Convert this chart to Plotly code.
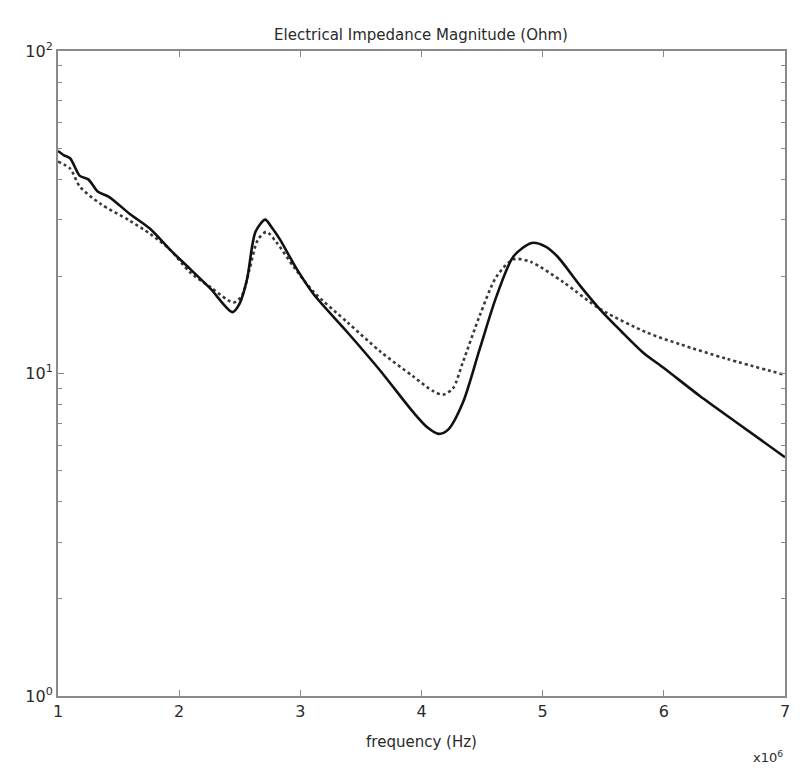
import plotly.graph_objects as go

# frequency in units of 1e6 Hz
freq_solid = [1.00, 1.05, 1.10, 1.18, 1.25, 1.33, 1.42, 1.59, 1.76, 1.92, 2.09, 2.26,
              2.44, 2.50, 2.56, 2.63, 2.71, 2.76, 2.83, 2.97, 3.11, 3.39, 3.66, 3.93,
              4.05, 4.14, 4.22, 4.34, 4.48, 4.62, 4.76, 4.91, 5.02, 5.12, 5.31, 5.48,
              5.65, 5.83, 6.00, 6.30, 6.60, 7.00]
z_solid = [49.0, 47.5, 46.5, 41.0, 40.0, 36.6, 35.3, 31.3, 28.1, 24.3, 21.1, 18.3,
           15.5, 16.5, 19.6, 27.5, 30.0, 28.5, 26.1, 21.1, 17.6, 13.4, 10.2, 7.6,
           6.8, 6.5, 6.7, 8.1, 11.9, 17.4, 23.1, 25.4, 24.8, 23.1, 18.7, 15.7,
           13.5, 11.6, 10.4, 8.5, 7.05, 5.5]

freq_dotted = [1.00, 1.10, 1.18, 1.35, 1.59, 1.76, 1.92, 2.09, 2.26, 2.45, 2.52, 2.58,
               2.65, 2.72, 2.80, 2.95, 3.11, 3.39, 3.66, 3.93, 4.10, 4.18, 4.26, 4.34,
               4.48, 4.62, 4.76, 4.90, 5.17, 5.48, 5.86, 6.14, 6.52, 7.00]
z_dotted = [45.4, 43.2, 38.0, 33.6, 29.8, 27.1, 24.3, 20.6, 18.5, 16.6, 17.5, 21.0,
            26.0, 27.5, 25.6, 21.3, 17.9, 14.4, 11.7, 9.8, 8.8, 8.6, 9.0, 10.8,
            15.1, 20.0, 22.6, 22.2, 19.2, 15.8, 13.4, 12.3, 11.1, 9.9]

x_ticks = [1, 2, 3, 4, 5, 6, 7]
y_ticks = [1, 10, 100]
y_ticktext = ["10<sup>0</sup>", "10<sup>1</sup>", "10<sup>2</sup>"]
y_minor = [m * d for d in (1, 10) for m in range(2, 10)]

FONT = "DejaVu Sans"
TEXT_COLOR = "#2a2a2a"
AXIS_COLOR = "#8a8a8a"

# page body adds an 8px margin, so the figure is a bit smaller than the window
W, H = 801, 760

fig = go.Figure()
fig.add_trace(go.Scatter(
    x=freq_dotted, y=z_dotted, mode="lines",
    line=dict(color="#3a3a3a", width=2.6, dash="dot", shape="spline", smoothing=0.8),
))
fig.add_trace(go.Scatter(
    x=freq_solid, y=z_solid, mode="lines",
    line=dict(color="#111111", width=2.6, shape="spline", smoothing=0.8),
))

fig.update_layout(
    width=W, height=H,
    paper_bgcolor="white", plot_bgcolor="white",
    showlegend=False,
    margin=dict(l=50, r=24, t=43, b=72),
    font=dict(family=FONT, color=TEXT_COLOR),
    title=dict(text="Electrical Impedance Magnitude (Ohm)", x=413 / W, xanchor="center",
               y=1 - 27 / H, yanchor="middle", font=dict(size=15, color=TEXT_COLOR)),
    annotations=[dict(text="x10<sup>6</sup>", xref="paper", yref="paper", x=1.0, y=-0.095,
                      xanchor="right", yanchor="middle", showarrow=False,
                      font=dict(size=13, color=TEXT_COLOR))],
)
fig.update_xaxes(
    range=[1, 7], tickvals=x_ticks, ticks="inside", ticklen=6, tickcolor=AXIS_COLOR,
    showline=True, linecolor=AXIS_COLOR, linewidth=2, mirror="allticks",
    showgrid=False, zeroline=False, automargin=False,
    tickfont=dict(size=16, color=TEXT_COLOR),
    title=dict(text="frequency (Hz)", font=dict(size=15, color=TEXT_COLOR), standoff=16),
)
fig.update_yaxes(
    type="log", range=[0, 2], tickvals=y_ticks, ticktext=y_ticktext,
    ticks="inside", ticklen=6, tickcolor=AXIS_COLOR,
    minor=dict(tickvals=y_minor, ticks="inside", ticklen=4, tickcolor=AXIS_COLOR, showgrid=False),
    showline=True, linecolor=AXIS_COLOR, linewidth=2, mirror="allticks",
    showgrid=False, zeroline=False, automargin=False,
    tickfont=dict(size=16, color=TEXT_COLOR),
)

fig.write_html("out.html")
